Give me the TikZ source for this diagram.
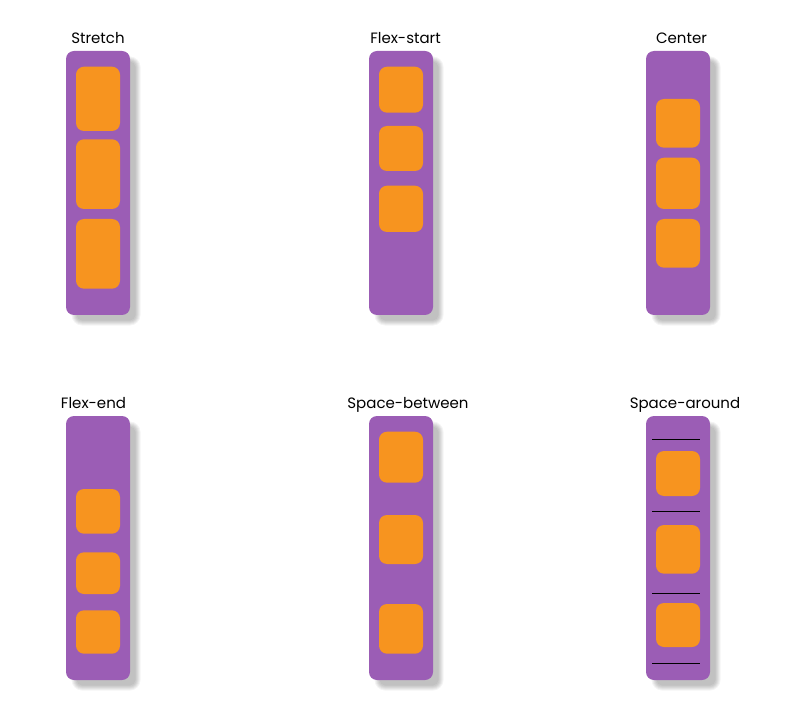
\documentclass[tikz,border=0pt]{standalone}
\usepackage{fontspec}
\setmainfont{Poppins}
\definecolor{boxpurple}{HTML}{9B5DB5}
\definecolor{itemorange}{HTML}{F7941F}
\tikzset{
  container/.style={fill=boxpurple, draw=none, rounded corners=8pt},
  shadowlayer/.style={fill=black, fill opacity=0.045, draw=none},
  item/.style={fill=itemorange, draw=none, rounded corners=8pt},
  lbl/.style={font=\fontsize{15}{17}\selectfont, anchor=base, inner sep=0pt},
  sep/.style={draw=black, line width=0.8pt}
}
\newcommand\flexcont[4]{%
  \foreach \k in {0,...,5}{%
    \pgfmathsetmacro\ee{2.5-\k}%
    \pgfmathsetmacro\rr{max(3,8+\ee)}%
    \path[shadowlayer, rounded corners=\rr pt] (#1+8-\ee,#2+8-\ee) rectangle (#3+8+\ee,#4+8+\ee);
  }%
  \path[container] (#1,#2) rectangle (#3,#4);
}
\begin{document}
\begin{tikzpicture}[x=1pt,y=-1pt]
\useasboundingbox (0,0) rectangle (787,711);
\fill[white] (0,0) rectangle (787,711);
% Stretch
\node[lbl] (l1) at (98,43.5) {Stretch};
\flexcont{66}{51}{130}{315}
\path[item] (76,66.7) rectangle (120,131);
\path[item] (76,139.3) rectangle (120,209);
\path[item] (76,219) rectangle (120,288.7);
% Flex-start
\node[lbl] (l2) at (405.5,43.5) {Flex-start};
\flexcont{369}{51}{433}{315}
\path[item] (379,66.7) rectangle (423,112.7);
\path[item] (379,126) rectangle (423,171);
\path[item] (379,185.7) rectangle (423,232);
% Center
\node[lbl] (l3) at (681.5,43.5) {Center};
\flexcont{646}{51}{710}{315}
\path[item] (656,99) rectangle (700,147.7);
\path[item] (656,157.7) rectangle (700,209);
\path[item] (656,219) rectangle (700,267.7);
% Flex-end
\node[lbl] (l4) at (93.5,408) {Flex-end};
\flexcont{66}{416}{130}{680}
\path[item] (76,489) rectangle (120,533.7);
\path[item] (76,552.3) rectangle (120,594);
\path[item] (76,610.3) rectangle (120,653.7);
% Space-between
\node[lbl] (l5) at (408,408) {Space-between};
\flexcont{369}{416}{433}{680}
\path[item] (379,431.7) rectangle (423,482.7);
\path[item] (379,515) rectangle (423,564);
\path[item] (379,604) rectangle (423,653.7);
% Space-around
\node[lbl] (l6) at (685,408) {Space-around};
\flexcont{646}{416}{710}{680}
\path[item] (656,451) rectangle (700,496);
\path[item] (656,525) rectangle (700,573.7);
\path[item] (656,603) rectangle (700,647);
\coordinate (s1a) at (652,439.3); \coordinate (s1b) at (700,439.3);
\coordinate (s2a) at (652,511.3); \coordinate (s2b) at (700,511.3);
\coordinate (s3a) at (652,593); \coordinate (s3b) at (700,593);
\coordinate (s4a) at (652,663.3); \coordinate (s4b) at (700,663.3);
\draw[sep] (s1a) -- (s1b);
\draw[sep] (s2a) -- (s2b);
\draw[sep] (s3a) -- (s3b);
\draw[sep] (s4a) -- (s4b);
\end{tikzpicture}
\end{document}
